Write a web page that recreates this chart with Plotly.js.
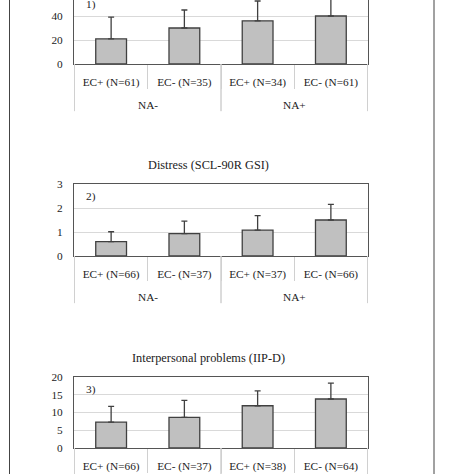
<!DOCTYPE html>
<html>
<head>
<meta charset="utf-8">
<script src="https://cdn.plot.ly/plotly-3.0.1.min.js"></script>
<style>
  html, body { margin: 0; padding: 0; overflow: hidden; width: 474px; height: 474px; background: #fff; }
  #chart { position: absolute; left: 0; top: -40px; width: 474px; height: 540px; }
</style>
</head>
<body>
<div id="chart"></div>
<script>
// groups shared by the three panels
const naGroups = ['NA-', 'NA-', 'NA+', 'NA+'];

// panel 1 (title cropped in the source picture)
const cats1 = ['EC+ (N=61)', 'EC- (N=35)', 'EC+ (N=34)', 'EC- (N=61)'];
const means1 = [21, 30, 36, 40];
const sd1 = [18, 15, 16.5, 17];

// panel 2: Distress (SCL-90R GSI)
const cats2 = ['EC+ (N=66)', 'EC- (N=37)', 'EC+ (N=37)', 'EC- (N=66)'];
const means2 = [0.6, 0.93, 1.08, 1.5];
const sd2 = [0.41, 0.52, 0.6, 0.65];

// panel 3: Interpersonal problems (IIP-D)
const cats3 = ['EC+ (N=66)', 'EC- (N=37)', 'EC+ (N=38)', 'EC- (N=64)'];
const means3 = [7.3, 8.6, 11.9, 13.8];
const sd3 = [4.4, 4.8, 4.2, 4.5];

const panelTitles = ['', 'Distress (SCL-90R GSI)', 'Interpersonal problems (IIP-D)'];
const panelTags = ['1)', '2)', '3)'];

const FONT = 'Liberation Serif, Times New Roman, serif';
const INK = '#222';
const SEP = '#d0d0d0';

function barTrace(cats, means, sd, n) {
  return {
    type: 'bar',
    x: cats,
    y: means,
    xaxis: n === 1 ? 'x' : 'x' + n,
    yaxis: n === 1 ? 'y' : 'y' + n,
    marker: { color: '#c0c0c0', line: { color: '#404040', width: 1.3 } },
    error_y: {
      type: 'data',
      symmetric: false,
      array: sd,
      arrayminus: sd.map(() => 0),
      color: '#404040',
      thickness: 1.3,
      width: 3,
    },
    hoverinfo: 'skip',
  };
}

const data = [
  barTrace(cats1, means1, sd1, 1),
  barTrace(cats2, means2, sd2, 2),
  barTrace(cats3, means3, sd3, 3),
];

function xAxis(anchor) {
  return {
    type: 'category',
    domain: [74 / 474, 368 / 474],
    anchor: anchor,
    showgrid: false,
    showline: true,
    linecolor: '#555',
    linewidth: 1,
    mirror: true,
    ticks: 'outside',
    tickson: 'boundaries',
    ticklen: 24,
    tickcolor: SEP,
    tickwidth: 1,
    ticklabelstandoff: 7,
    tickfont: { family: FONT, size: 11.3, color: INK },
    fixedrange: true,
  };
}

function yAxis(anchor, dom, range, tickvals) {
  return {
    domain: dom,
    anchor: anchor,
    range: range,
    tickvals: tickvals,
    showline: true,
    linecolor: '#555',
    linewidth: 1,
    mirror: true,
    showgrid: true,
    gridcolor: '#d9d9d9',
    zeroline: false,
    ticks: '',
    ticklabelstandoff: 8,
    tickfont: { family: FONT, size: 11.3, color: INK },
    fixedrange: true,
  };
}

const annotations = [];
const shapes = [];

// NA-/NA+ group labels and the long separators between groups
const groupNames = naGroups.filter((g, i) => naGroups.indexOf(g) === i);
['', '2', '3'].forEach((s, i) => {
  const xr = 'x' + s;
  const yr = 'y' + s + ' domain';
  annotations.push({
    xref: xr + ' domain', yref: yr,
    x: 0.034, y: 0.83, xanchor: 'left', yanchor: 'middle',
    text: panelTags[i], showarrow: false,
    font: { family: FONT, size: 11.3, color: INK },
  });
  if (panelTitles[i]) {
    annotations.push({
      xref: xr + ' domain', yref: yr,
      x: 0.459, y: 1.265, xanchor: 'center', yanchor: 'middle',
      text: panelTitles[i], showarrow: false,
      font: { family: FONT, size: 12.3, color: INK },
    });
  }
  groupNames.forEach((g) => {
    const first = naGroups.indexOf(g);
    const last = naGroups.lastIndexOf(g);
    annotations.push({
      xref: xr, yref: yr,
      x: (first + last) / 2, y: -0.57, xanchor: 'center', yanchor: 'middle',
      text: g, showarrow: false,
      font: { family: FONT, size: 11.3, color: INK },
    });
    [first - 0.5, last + 0.5].forEach((b) => {
      shapes.push({
        type: 'line', xref: xr, yref: yr,
        x0: b, x1: b, y0: 0, y1: -0.655,
        line: { color: SEP, width: 1 },
      });
    });
  });
});

// outer frame of the figure
shapes.push({
  type: 'rect', xref: 'paper', yref: 'paper',
  x0: 9.5 / 474, x1: 434 / 474, y0: 0, y1: 1,
  line: { color: '#444', width: 1 },
});

const H = 540;
const layout = {
  width: 474,
  height: H,
  margin: { l: 0, r: 0, t: 0, b: 0 },
  paper_bgcolor: '#fff',
  plot_bgcolor: '#fff',
  showlegend: false,
  bargap: 0.58,
  font: { family: FONT, color: INK },
  xaxis: xAxis('y'),
  yaxis: yAxis('x', [1 - 104 / H, 1 - 32 / H], [0, 60], [0, 20, 40]),
  xaxis2: xAxis('y2'),
  yaxis2: yAxis('x2', [1 - 296 / H, 1 - 224 / H], [0, 3], [0, 1, 2, 3]),
  xaxis3: xAxis('y3'),
  yaxis3: yAxis('x3', [1 - 488 / H, 1 - 417 / H], [0, 20], [0, 5, 10, 15, 20]),
  annotations: annotations,
  shapes: shapes,
};

Plotly.newPlot('chart', data, layout, { staticPlot: true });
</script>
</body>
</html>
